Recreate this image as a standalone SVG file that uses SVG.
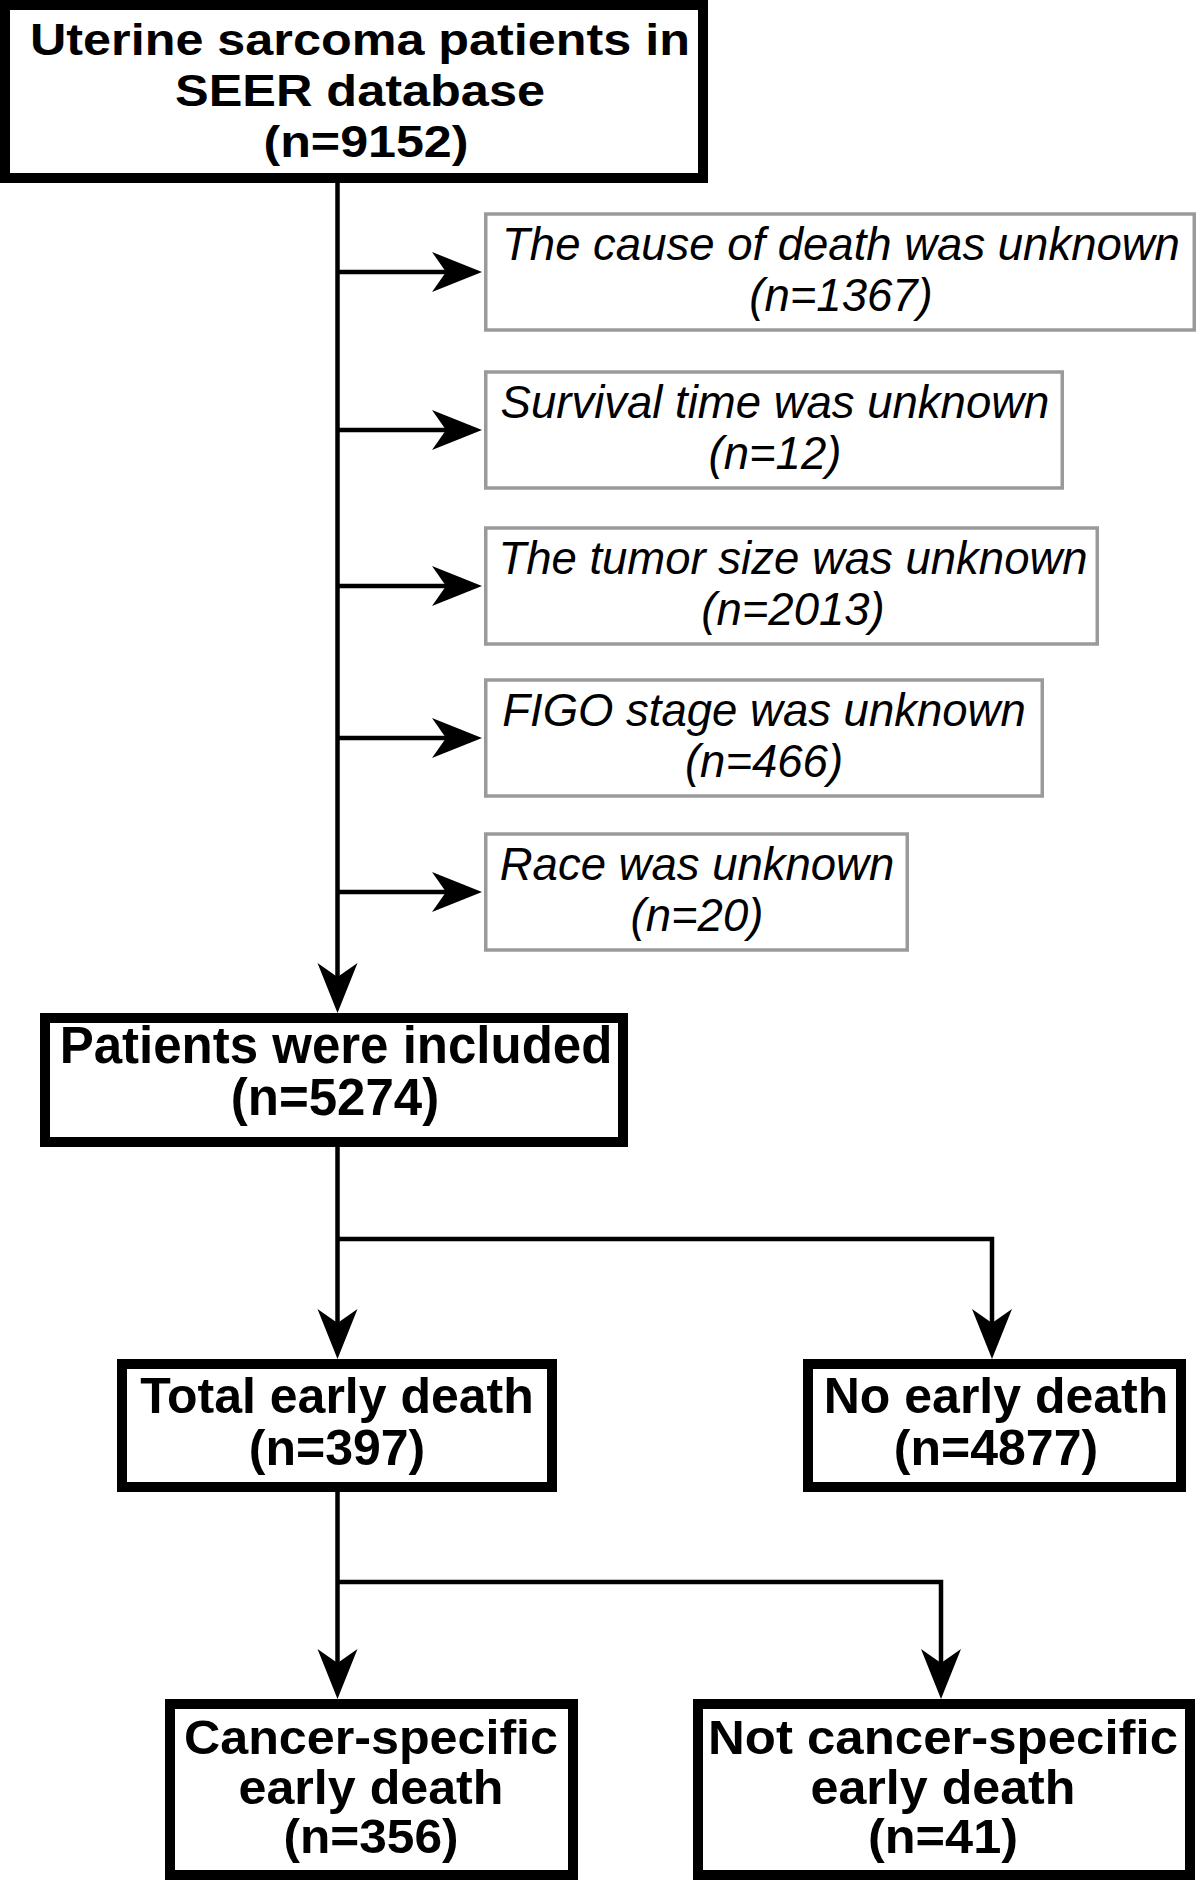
<svg xmlns="http://www.w3.org/2000/svg" width="1200" height="1881" viewBox="0 0 1200 1881">
<style>
.bold{font-family:"Liberation Sans",Arial,sans-serif;font-weight:bold;fill:#000;text-anchor:middle}
.b3{font-size:47.5px}
.ital{font-family:"Liberation Sans",Arial,sans-serif;font-style:italic;font-size:45.5px;fill:#000;text-anchor:middle}
.main{fill:#fff;stroke:#000;stroke-width:10}
.excl{fill:#fff;stroke:#9a9a9a;stroke-width:3.5}
.conn{fill:none;stroke:#000;stroke-width:4.5}
</style>
<defs>
<marker id="arr" viewBox="-22 -22 54 44" refX="0" refY="0" markerWidth="54" markerHeight="44" markerUnits="userSpaceOnUse" orient="auto">
<path d="M30,0 L-20,-20 L-6,0 L-20,20 Z" fill="#000"/>
</marker>
</defs>
<rect width="1200" height="1881" fill="#fff"/>
<g id="connectors">
<path class="conn" d="M337.5,178 V983" marker-end="url(#arr)"/>
<path class="conn" d="M337.5,272 H452" marker-end="url(#arr)"/>
<path class="conn" d="M337.5,430 H452" marker-end="url(#arr)"/>
<path class="conn" d="M337.5,586 H452" marker-end="url(#arr)"/>
<path class="conn" d="M337.5,738 H452" marker-end="url(#arr)"/>
<path class="conn" d="M337.5,892 H452" marker-end="url(#arr)"/>
<path class="conn" d="M337.5,1142 V1329" marker-end="url(#arr)"/>
<path class="conn" d="M337.5,1239 H992 V1329" marker-end="url(#arr)"/>
<path class="conn" d="M337.5,1487 V1669" marker-end="url(#arr)"/>
<path class="conn" d="M337.5,1582 H941 V1669" marker-end="url(#arr)"/>
</g>
<g id="n-seer">
<rect class="main" x="5" y="5" width="698" height="173"/>
<text class="bold" font-size="45" x="360" y="55" textLength="660" lengthAdjust="spacingAndGlyphs">Uterine sarcoma patients in</text>
<text class="bold" font-size="45" x="360" y="106" textLength="370" lengthAdjust="spacingAndGlyphs">SEER database</text>
<text class="bold" font-size="45" x="366" y="157" textLength="205" lengthAdjust="spacingAndGlyphs">(n=9152)</text>
</g>
<g id="x-cause">
<rect class="excl" x="485.75" y="214" width="708.5" height="116"/>
<text class="ital" x="841" y="260">The cause of death was unknown</text>
<text class="ital" x="841" y="311">(n=1367)</text>
</g>
<g id="x-survival">
<rect class="excl" x="485.75" y="372" width="576.5" height="116"/>
<text class="ital" x="775" y="418">Survival time was unknown</text>
<text class="ital" x="775" y="469">(n=12)</text>
</g>
<g id="x-tumor">
<rect class="excl" x="485.75" y="528" width="611.5" height="116"/>
<text class="ital" x="793" y="574">The tumor size was unknown</text>
<text class="ital" x="793" y="625">(n=2013)</text>
</g>
<g id="x-figo">
<rect class="excl" x="485.75" y="680" width="556.5" height="116"/>
<text class="ital" x="764" y="726">FIGO stage was unknown</text>
<text class="ital" x="764" y="777">(n=466)</text>
</g>
<g id="x-race">
<rect class="excl" x="485.75" y="834" width="421.5" height="116"/>
<text class="ital" x="697" y="880">Race was unknown</text>
<text class="ital" x="697" y="931">(n=20)</text>
</g>
<g id="n-included">
<rect class="main" x="45" y="1018" width="578" height="124"/>
<text class="bold" font-size="51" x="336" y="1063">Patients were included</text>
<text class="bold" font-size="51" x="335" y="1115">(n=5274)</text>
</g>
<g id="n-total">
<rect class="main" x="122" y="1364" width="430" height="123"/>
<text class="bold" font-size="50" x="337" y="1413">Total early death</text>
<text class="bold" font-size="50" x="337" y="1465">(n=397)</text>
</g>
<g id="n-noearly">
<rect class="main" x="808" y="1364" width="373" height="123"/>
<text class="bold" font-size="50" x="996" y="1413">No early death</text>
<text class="bold" font-size="50" x="996" y="1465">(n=4877)</text>
</g>
<g id="n-cancer">
<rect class="main" x="170" y="1704" width="403" height="171"/>
<text class="bold b3" x="371" y="1754" textLength="374" lengthAdjust="spacingAndGlyphs">Cancer-specific</text>
<text class="bold b3" x="371" y="1803.5" textLength="265" lengthAdjust="spacingAndGlyphs">early death</text>
<text class="bold b3" x="371" y="1853" textLength="175" lengthAdjust="spacingAndGlyphs">(n=356)</text>
</g>
<g id="n-notcancer">
<rect class="main" x="698" y="1704" width="492" height="171"/>
<text class="bold b3" x="943" y="1754" textLength="470" lengthAdjust="spacingAndGlyphs">Not cancer-specific</text>
<text class="bold b3" x="943" y="1803.5" textLength="265" lengthAdjust="spacingAndGlyphs">early death</text>
<text class="bold b3" x="943" y="1853" textLength="150" lengthAdjust="spacingAndGlyphs">(n=41)</text>
</g>
</svg>
